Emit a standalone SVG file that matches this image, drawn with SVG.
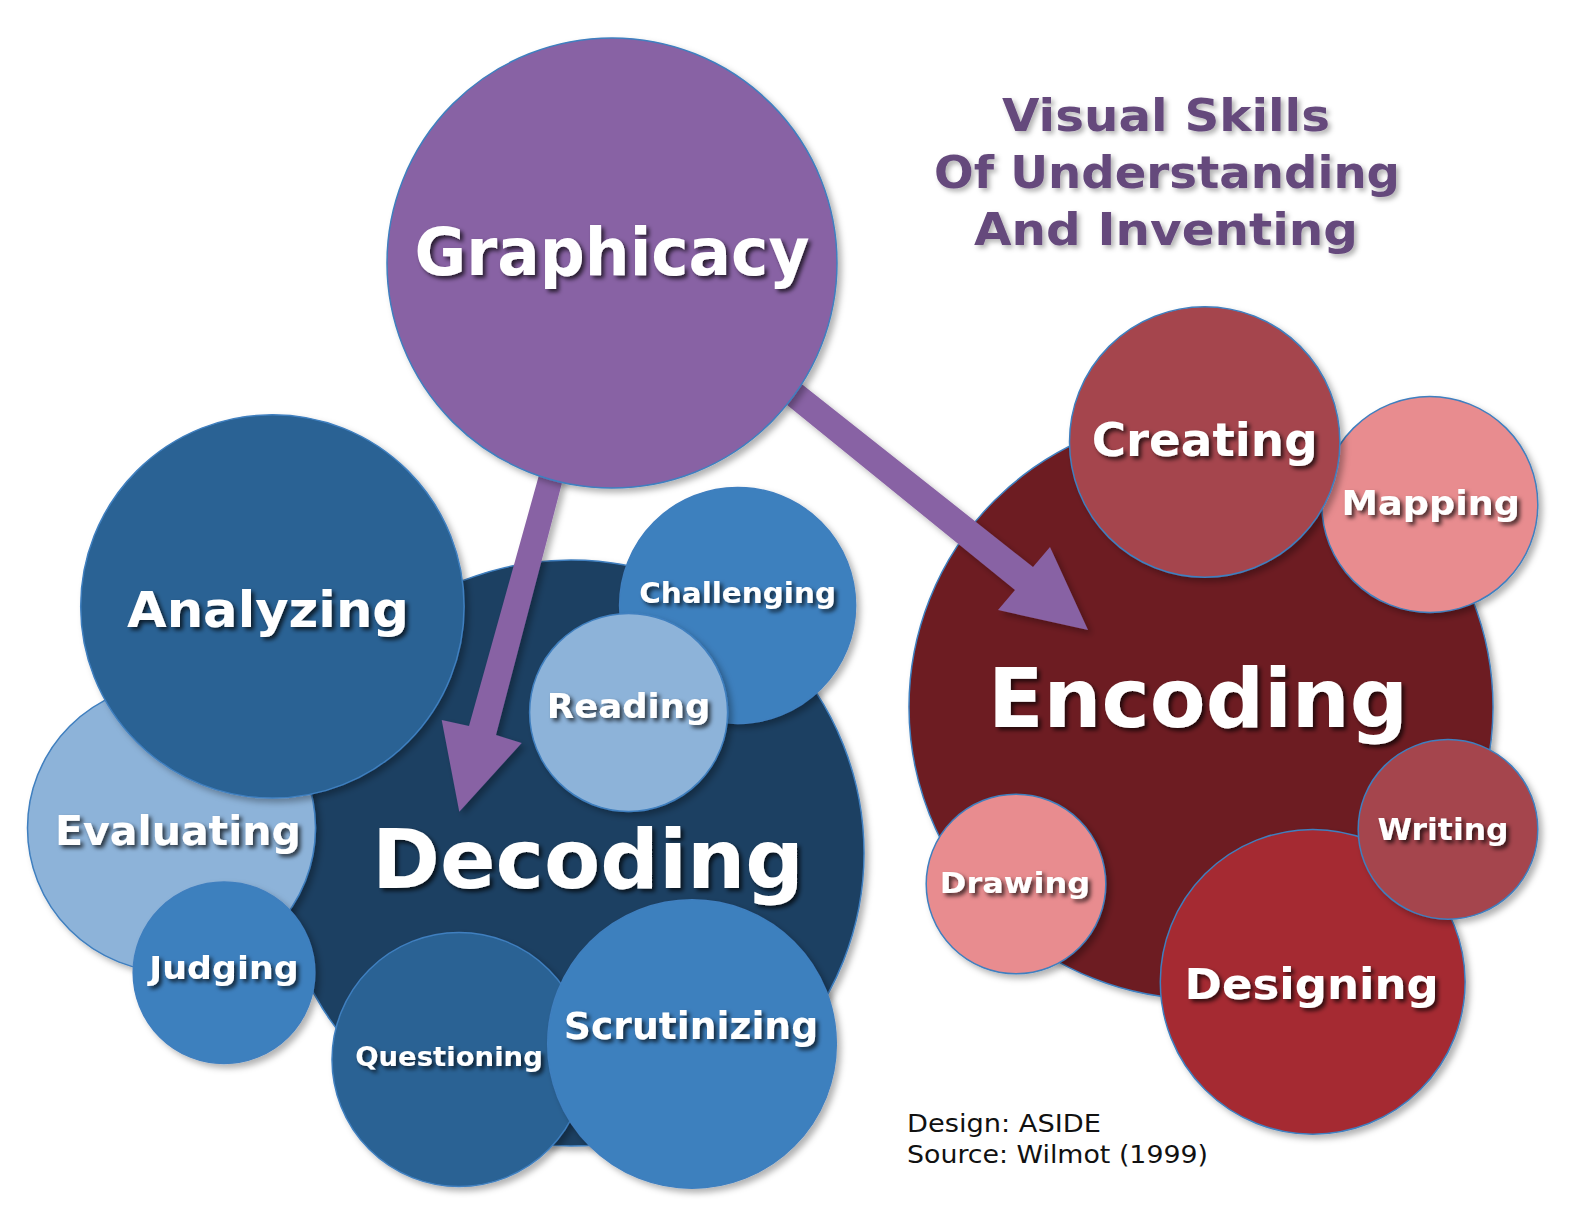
<svg xmlns="http://www.w3.org/2000/svg" width="1584" height="1224" viewBox="0 0 1584 1224">
<defs>
<filter id="cs" x="-20%" y="-20%" width="140%" height="140%">
<feDropShadow dx="4" dy="4" stdDeviation="3" flood-color="#000" flood-opacity="0.3"/>
</filter>
<filter id="ts" x="-10%" y="-30%" width="120%" height="160%">
<feDropShadow dx="3" dy="3" stdDeviation="2" flood-color="#000" flood-opacity="0.7"/>
</filter>
<filter id="tts" x="-10%" y="-30%" width="120%" height="160%">
<feDropShadow dx="3" dy="3" stdDeviation="2.5" flood-color="#000" flood-opacity="0.3"/>
</filter>
</defs>
<style>
circle{stroke:#3F7FBF;stroke-width:1.5;filter:url(#cs)}
.lb{font-family:"DejaVu Sans","Verdana",sans-serif;font-weight:bold;fill:#fff;text-anchor:middle;filter:url(#ts)}
.tt{font-family:"DejaVu Sans","Verdana",sans-serif;font-weight:bold;fill:#654A7C;text-anchor:middle;filter:url(#tts)}
.cr{font-family:"DejaVu Sans","Verdana",sans-serif;fill:#111;font-size:24px}
.arrow{fill:#8862A4;filter:url(#cs)}
</style>
<rect width="1584" height="1224" fill="#fff"/>

<g id="decoding">
<circle cx="571" cy="853" r="293" fill="#1C3F62"/>
<text class="lb" x="588" y="888" font-size="82" textLength="432" lengthAdjust="spacingAndGlyphs">Decoding</text>
</g>
<g id="evaluating">
<circle cx="171.5" cy="828" r="144" fill="#8DB3D9"/>
<text class="lb" x="178" y="845" font-size="41" textLength="246" lengthAdjust="spacingAndGlyphs">Evaluating</text>
</g>
<g id="analyzing">
<circle cx="272.4" cy="606.4" r="191.7" fill="#296294"/>
<text class="lb" x="268" y="627" font-size="50" textLength="282" lengthAdjust="spacingAndGlyphs">Analyzing</text>
</g>
<g id="judging">
<circle cx="224" cy="972.7" r="90.8" fill="#3E80BE"/>
<text class="lb" x="224" y="978.7" font-size="31.5" textLength="149.3" lengthAdjust="spacingAndGlyphs">Judging</text>
</g>
<g id="challenging">
<circle cx="737.6" cy="605.4" r="118" fill="#3E80BE"/>
<text class="lb" x="737.6" y="603.4" font-size="28.5" textLength="196.8" lengthAdjust="spacingAndGlyphs">Challenging</text>
</g>
<g id="reading">
<circle cx="628.6" cy="712.4" r="99" fill="#8DB3D9"/>
<text class="lb" x="628.6" y="718.4" font-size="34.5" textLength="163.5" lengthAdjust="spacingAndGlyphs">Reading</text>
</g>
<g id="questioning">
<circle cx="459" cy="1059.5" r="127" fill="#296294"/>
<text class="lb" x="449" y="1065.5" font-size="26.5" textLength="187.7" lengthAdjust="spacingAndGlyphs">Questioning</text>
</g>
<g id="scrutinizing">
<circle cx="692" cy="1044" r="144.3" fill="#3E80BE"/>
<text class="lb" x="691" y="1039.3" font-size="36.5" textLength="254.3" lengthAdjust="spacingAndGlyphs">Scrutinizing</text>
</g>

<g id="encoding">
<circle cx="1201" cy="707" r="292" fill="#6D1D22"/>
<text class="lb" x="1198" y="727" font-size="82" textLength="420" lengthAdjust="spacingAndGlyphs">Encoding</text>
</g>
<g id="mapping">
<circle cx="1429.8" cy="504.5" r="108" fill="#E88C8F"/>
<text class="lb" x="1430.8" y="514.6" font-size="34.5" textLength="178.6" lengthAdjust="spacingAndGlyphs">Mapping</text>
</g>
<g id="creating">
<circle cx="1204.7" cy="442" r="135.2" fill="#A5454E"/>
<text class="lb" x="1204.7" y="456" font-size="45.5" textLength="226" lengthAdjust="spacingAndGlyphs">Creating</text>
</g>
<g id="drawing">
<circle cx="1016" cy="884" r="89.8" fill="#E88C8F"/>
<text class="lb" x="1015" y="893" font-size="28.5" textLength="150.3" lengthAdjust="spacingAndGlyphs">Drawing</text>
</g>
<g id="designing">
<circle cx="1312.7" cy="981.8" r="152.4" fill="#A52A33"/>
<text class="lb" x="1311.7" y="999" font-size="42.5" textLength="254.3" lengthAdjust="spacingAndGlyphs">Designing</text>
</g>
<g id="writing">
<circle cx="1448" cy="829.4" r="89.8" fill="#A5454E"/>
<text class="lb" x="1443" y="839.5" font-size="29.5" textLength="131.2" lengthAdjust="spacingAndGlyphs">Writing</text>
</g>

<g id="connectors">
<polygon class="arrow" points="546,450 570.6,450 496,735 521.7,743 459.3,811.7 441.7,720 469,726"/>
<polygon class="arrow" points="770,359 1033,567 1050,547 1088,630 998,610 1015,590 760,383"/>
</g>

<g id="graphicacy">
<circle cx="612" cy="263" r="225" fill="#8862A4"/>
<text class="lb" x="612" y="275" font-size="66" textLength="395" lengthAdjust="spacingAndGlyphs">Graphicacy</text>
</g>

<g id="title">
<text class="tt" x="1166" y="131" font-size="44" textLength="328" lengthAdjust="spacingAndGlyphs">Visual Skills</text>
<text class="tt" x="1167" y="188" font-size="44" textLength="466" lengthAdjust="spacingAndGlyphs">Of Understanding</text>
<text class="tt" x="1166" y="245" font-size="44" textLength="384" lengthAdjust="spacingAndGlyphs">And Inventing</text>
</g>

<g id="credits">
<text class="cr" x="907" y="1132" textLength="194" lengthAdjust="spacingAndGlyphs">Design: ASIDE</text>
<text class="cr" x="907" y="1163" textLength="301" lengthAdjust="spacingAndGlyphs">Source: Wilmot (1999)</text>
</g>
</svg>
